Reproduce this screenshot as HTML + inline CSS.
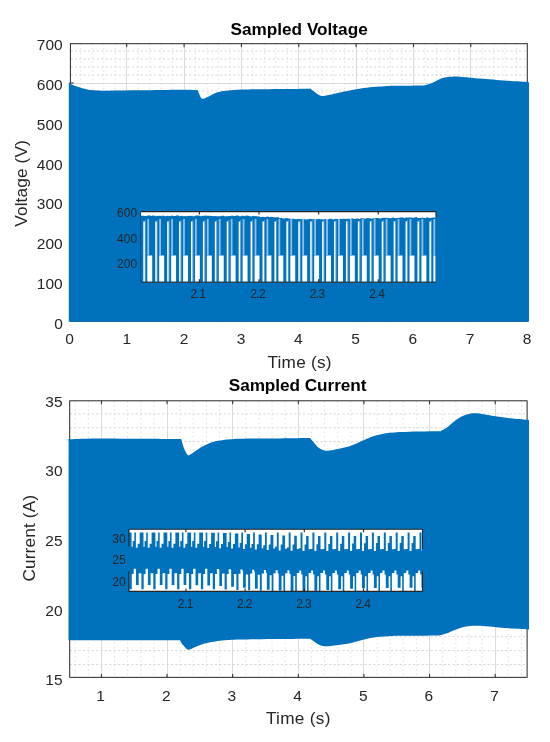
<!DOCTYPE html>
<html><head><meta charset="utf-8"><title>Sampled Voltage / Sampled Current</title>
<style>
html,body{margin:0;padding:0;background:#fff;}
svg{display:block;}
text{font-family:"Liberation Sans",Arial,Helvetica,sans-serif;fill:#262626;}
.tk{font-size:15.5px;letter-spacing:0.05px;}
.lb{font-size:17.2px;}
.tt{font-size:17.2px;font-weight:bold;fill:#000;}
.it{font-size:12px;}
</style></head><body>
<svg width="550" height="742" viewBox="0 0 550 742">
<rect x="0" y="0" width="550" height="742" fill="#fff"/>

<g stroke="#dedede" stroke-width="1" stroke-dasharray="1.5 2.9" fill="none">
<line x1="80.82" y1="43.7" x2="80.82" y2="321.3"/>
<line x1="92.29" y1="43.7" x2="92.29" y2="321.3"/>
<line x1="103.76" y1="43.7" x2="103.76" y2="321.3"/>
<line x1="115.23" y1="43.7" x2="115.23" y2="321.3"/>
<line x1="138.17" y1="43.7" x2="138.17" y2="321.3"/>
<line x1="149.64" y1="43.7" x2="149.64" y2="321.3"/>
<line x1="161.11" y1="43.7" x2="161.11" y2="321.3"/>
<line x1="172.58" y1="43.7" x2="172.58" y2="321.3"/>
<line x1="195.52" y1="43.7" x2="195.52" y2="321.3"/>
<line x1="206.99" y1="43.7" x2="206.99" y2="321.3"/>
<line x1="218.46" y1="43.7" x2="218.46" y2="321.3"/>
<line x1="229.93" y1="43.7" x2="229.93" y2="321.3"/>
<line x1="252.87" y1="43.7" x2="252.87" y2="321.3"/>
<line x1="264.34" y1="43.7" x2="264.34" y2="321.3"/>
<line x1="275.81" y1="43.7" x2="275.81" y2="321.3"/>
<line x1="287.28" y1="43.7" x2="287.28" y2="321.3"/>
<line x1="310.22" y1="43.7" x2="310.22" y2="321.3"/>
<line x1="321.69" y1="43.7" x2="321.69" y2="321.3"/>
<line x1="333.16" y1="43.7" x2="333.16" y2="321.3"/>
<line x1="344.63" y1="43.7" x2="344.63" y2="321.3"/>
<line x1="367.57" y1="43.7" x2="367.57" y2="321.3"/>
<line x1="379.04" y1="43.7" x2="379.04" y2="321.3"/>
<line x1="390.51" y1="43.7" x2="390.51" y2="321.3"/>
<line x1="401.98" y1="43.7" x2="401.98" y2="321.3"/>
<line x1="424.92" y1="43.7" x2="424.92" y2="321.3"/>
<line x1="436.39" y1="43.7" x2="436.39" y2="321.3"/>
<line x1="447.86" y1="43.7" x2="447.86" y2="321.3"/>
<line x1="459.33" y1="43.7" x2="459.33" y2="321.3"/>
<line x1="482.27" y1="43.7" x2="482.27" y2="321.3"/>
<line x1="493.74" y1="43.7" x2="493.74" y2="321.3"/>
<line x1="505.21" y1="43.7" x2="505.21" y2="321.3"/>
<line x1="516.68" y1="43.7" x2="516.68" y2="321.3"/>
</g>
<g stroke="#d6d6d6" stroke-width="1" stroke-dasharray="2.2 2.2" fill="none">
<line x1="70.4" y1="314.42" x2="527.3" y2="314.42"/>
<line x1="70.4" y1="306.44" x2="527.3" y2="306.44"/>
<line x1="70.4" y1="298.46" x2="527.3" y2="298.46"/>
<line x1="70.4" y1="290.48" x2="527.3" y2="290.48"/>
<line x1="70.4" y1="274.52" x2="527.3" y2="274.52"/>
<line x1="70.4" y1="266.54" x2="527.3" y2="266.54"/>
<line x1="70.4" y1="258.56" x2="527.3" y2="258.56"/>
<line x1="70.4" y1="250.58" x2="527.3" y2="250.58"/>
<line x1="70.4" y1="234.62" x2="527.3" y2="234.62"/>
<line x1="70.4" y1="226.64" x2="527.3" y2="226.64"/>
<line x1="70.4" y1="218.66" x2="527.3" y2="218.66"/>
<line x1="70.4" y1="210.68" x2="527.3" y2="210.68"/>
<line x1="70.4" y1="194.72" x2="527.3" y2="194.72"/>
<line x1="70.4" y1="186.74" x2="527.3" y2="186.74"/>
<line x1="70.4" y1="178.76" x2="527.3" y2="178.76"/>
<line x1="70.4" y1="170.78" x2="527.3" y2="170.78"/>
<line x1="70.4" y1="154.82" x2="527.3" y2="154.82"/>
<line x1="70.4" y1="146.84" x2="527.3" y2="146.84"/>
<line x1="70.4" y1="138.86" x2="527.3" y2="138.86"/>
<line x1="70.4" y1="130.88" x2="527.3" y2="130.88"/>
<line x1="70.4" y1="114.92" x2="527.3" y2="114.92"/>
<line x1="70.4" y1="106.94" x2="527.3" y2="106.94"/>
<line x1="70.4" y1="98.96" x2="527.3" y2="98.96"/>
<line x1="70.4" y1="90.98" x2="527.3" y2="90.98"/>
<line x1="70.4" y1="75.02" x2="527.3" y2="75.02"/>
<line x1="70.4" y1="67.04" x2="527.3" y2="67.04"/>
<line x1="70.4" y1="59.06" x2="527.3" y2="59.06"/>
<line x1="70.4" y1="51.08" x2="527.3" y2="51.08"/>
</g>
<g stroke="#dadada" stroke-width="1" fill="none">
<line x1="126.5" y1="43.7" x2="126.5" y2="321.3"/>
<line x1="184.5" y1="43.7" x2="184.5" y2="321.3"/>
<line x1="241.5" y1="43.7" x2="241.5" y2="321.3"/>
<line x1="298.5" y1="43.7" x2="298.5" y2="321.3"/>
<line x1="356.5" y1="43.7" x2="356.5" y2="321.3"/>
<line x1="413.5" y1="43.7" x2="413.5" y2="321.3"/>
<line x1="470.5" y1="43.7" x2="470.5" y2="321.3"/>
<line x1="70.4" y1="282.5" x2="527.3" y2="282.5"/>
<line x1="70.4" y1="242.5" x2="527.3" y2="242.5"/>
<line x1="70.4" y1="202.5" x2="527.3" y2="202.5"/>
<line x1="70.4" y1="162.5" x2="527.3" y2="162.5"/>
<line x1="70.4" y1="122.5" x2="527.3" y2="122.5"/>
<line x1="70.4" y1="83.5" x2="527.3" y2="83.5"/>
</g>
<g stroke="#262626" stroke-width="1" fill="none">
<rect x="70.4" y="43.7" width="456.9" height="277.6"/>
<line x1="126.70" y1="321.3" x2="126.70" y2="317.90000000000003"/>
<line x1="126.70" y1="43.7" x2="126.70" y2="47.1"/>
<line x1="184.05" y1="321.3" x2="184.05" y2="317.90000000000003"/>
<line x1="184.05" y1="43.7" x2="184.05" y2="47.1"/>
<line x1="241.40" y1="321.3" x2="241.40" y2="317.90000000000003"/>
<line x1="241.40" y1="43.7" x2="241.40" y2="47.1"/>
<line x1="298.75" y1="321.3" x2="298.75" y2="317.90000000000003"/>
<line x1="298.75" y1="43.7" x2="298.75" y2="47.1"/>
<line x1="356.10" y1="321.3" x2="356.10" y2="317.90000000000003"/>
<line x1="356.10" y1="43.7" x2="356.10" y2="47.1"/>
<line x1="413.45" y1="321.3" x2="413.45" y2="317.90000000000003"/>
<line x1="413.45" y1="43.7" x2="413.45" y2="47.1"/>
<line x1="470.80" y1="321.3" x2="470.80" y2="317.90000000000003"/>
<line x1="470.80" y1="43.7" x2="470.80" y2="47.1"/>
<line x1="70.4" y1="282.50" x2="73.80000000000001" y2="282.50"/>
<line x1="527.3" y1="282.50" x2="523.9" y2="282.50"/>
<line x1="70.4" y1="242.60" x2="73.80000000000001" y2="242.60"/>
<line x1="527.3" y1="242.60" x2="523.9" y2="242.60"/>
<line x1="70.4" y1="202.70" x2="73.80000000000001" y2="202.70"/>
<line x1="527.3" y1="202.70" x2="523.9" y2="202.70"/>
<line x1="70.4" y1="162.80" x2="73.80000000000001" y2="162.80"/>
<line x1="527.3" y1="162.80" x2="523.9" y2="162.80"/>
<line x1="70.4" y1="122.90" x2="73.80000000000001" y2="122.90"/>
<line x1="527.3" y1="122.90" x2="523.9" y2="122.90"/>
<line x1="70.4" y1="83.00" x2="73.80000000000001" y2="83.00"/>
<line x1="527.3" y1="83.00" x2="523.9" y2="83.00"/>
</g>
<path d="M68.8,79.6 C69.0,80.2 68.1,82.2 70.0,83.5 C71.9,84.8 75.5,86.3 80.0,87.5 C84.5,88.7 87.0,90.0 97.0,90.5 C107.0,91.0 126.2,90.4 140.0,90.3 C153.8,90.2 170.6,89.8 180.0,89.8 C189.4,89.8 193.6,90.0 196.5,90.1 C199.4,90.2 197.1,89.7 197.5,90.3 C197.9,90.9 198.3,92.2 199.0,93.5 C199.7,94.8 200.6,97.6 201.6,98.4 C202.6,99.2 203.3,98.8 205.0,98.2 C206.7,97.6 209.5,95.9 212.0,94.8 C214.5,93.7 215.0,92.7 220.0,91.8 C225.0,90.9 230.3,90.1 242.0,89.6 C253.7,89.1 278.8,89.1 290.0,89.0 C301.2,88.9 306.0,88.8 309.5,88.8 C313.0,88.8 310.2,88.8 311.0,89.2 C311.8,89.7 312.7,90.5 314.0,91.5 C315.3,92.5 317.4,94.2 319.0,95.0 C320.6,95.8 321.6,96.1 323.6,96.0 C325.6,95.9 328.4,95.1 331.0,94.6 C333.6,94.0 334.0,93.7 339.0,92.7 C344.0,91.7 353.2,89.5 360.8,88.4 C368.4,87.3 378.2,86.6 384.7,86.2 C391.2,85.8 393.8,85.9 400.0,85.8 C406.2,85.7 417.8,85.6 422.0,85.5 C426.2,85.4 423.3,85.6 425.0,85.2 C426.7,84.8 429.8,83.9 432.0,83.0 C434.2,82.1 435.9,80.9 438.0,80.0 C440.1,79.1 441.8,78.2 444.5,77.6 C447.2,77.0 450.6,76.6 454.0,76.5 C457.4,76.4 460.7,76.9 465.0,77.2 C469.3,77.5 473.0,78.0 480.0,78.6 C487.0,79.2 498.8,80.2 507.0,80.8 C515.2,81.4 525.3,82.0 529.0,82.2L529,321.7 L68.8,321.7Z" fill="#0072BD"/>
<rect x="140.5" y="211.6" width="295.5" height="70.70000000000002" fill="#fff"/>
<path d="M140.5,215.5L142.0,215.8L143.5,215.7L145.0,215.9L146.5,215.9L148.0,215.4L149.5,215.3L151.0,216.1L152.5,215.6L154.0,215.5L155.5,216.3L157.0,215.8L158.5,216.1L160.0,215.8L161.5,215.9L163.0,215.5L164.5,215.9L166.0,216.2L167.5,215.8L169.0,216.0L170.5,216.0L172.0,215.4L173.5,216.1L175.0,215.9L176.5,215.6L178.0,215.3L179.5,216.2L181.0,215.8L182.5,216.0L184.0,216.2L185.5,216.0L187.0,216.2L188.5,215.7L190.0,216.1L191.5,215.7L193.0,216.2L194.5,216.2L196.0,215.4L197.5,215.4L199.0,215.5L200.5,216.3L202.0,215.7L203.5,215.9L205.0,215.6L206.5,215.8L208.0,215.7L209.5,215.7L211.0,215.9L212.5,215.9L214.0,216.2L215.5,216.0L217.0,216.2L218.5,216.2L220.0,216.3L221.5,216.0L223.0,215.5L224.5,216.2L226.0,216.3L227.5,216.2L229.0,215.9L230.5,216.0L232.0,215.5L233.5,216.1L235.0,215.9L236.5,215.6L238.0,215.4L239.5,216.2L241.0,216.3L242.5,215.4L244.0,216.2L245.5,215.8L247.0,215.6L248.5,215.8L250.0,216.3L251.5,216.5L253.0,215.7L254.5,216.3L256.0,215.9L257.5,216.6L259.0,216.3L260.5,216.9L262.0,217.1L263.5,216.7L265.0,217.3L266.5,216.7L268.0,216.6L269.5,217.2L271.0,216.8L272.5,217.0L274.0,217.3L275.5,217.6L277.0,217.3L278.5,217.3L280.0,218.2L281.5,217.8L283.0,218.5L284.5,218.5L286.0,218.1L287.5,218.3L289.0,218.4L290.5,218.7L292.0,218.7L293.5,218.7L295.0,218.9L296.5,219.3L298.0,218.9L299.5,218.9L301.0,219.2L302.5,218.8L304.0,218.9L305.5,219.6L307.0,219.2L308.5,219.2L310.0,218.7L311.5,219.1L313.0,219.3L314.5,218.7L316.0,219.3L317.5,219.3L319.0,218.8L320.5,219.3L322.0,219.2L323.5,219.4L325.0,219.0L326.5,219.4L328.0,219.4L329.5,218.7L331.0,218.7L332.5,219.3L334.0,219.6L335.5,218.8L337.0,219.0L338.5,219.1L340.0,218.8L341.5,218.9L343.0,218.8L344.5,218.8L346.0,219.0L347.5,218.7L349.0,218.7L350.5,219.1L352.0,218.3L353.5,218.8L355.0,219.0L356.5,218.5L358.0,218.4L359.5,218.9L361.0,218.3L362.5,218.2L364.0,218.5L365.5,218.7L367.0,218.1L368.5,218.2L370.0,218.2L371.5,218.7L373.0,218.3L374.5,218.6L376.0,217.9L377.5,218.1L379.0,218.3L380.5,218.5L382.0,218.1L383.5,217.8L385.0,217.7L386.5,218.0L388.0,217.7L389.5,218.3L391.0,218.3L392.5,217.6L394.0,217.7L395.5,218.2L397.0,218.0L398.5,218.1L400.0,217.6L401.5,217.4L403.0,217.5L404.5,218.0L406.0,217.5L407.5,217.5L409.0,217.6L410.5,217.6L412.0,217.5L413.5,218.0L415.0,217.3L416.5,217.1L418.0,218.0L419.5,218.0L421.0,218.1L422.5,217.5L424.0,218.1L425.5,218.0L427.0,217.3L428.5,217.8L430.0,217.9L431.5,217.8L433.0,217.6L434.5,217.4L436.0,217.4L436.0,217.4L436,282.3 L140.5,282.3Z" fill="#0072BD"/>
<g fill="#fff"><rect x="147.30" y="255.5" width="4.90" height="26.20"/><rect x="143.30" y="221.5" width="1.60" height="60.20"/><rect x="159.22" y="255.5" width="4.90" height="26.20"/><rect x="155.22" y="221.5" width="1.60" height="60.20"/><rect x="171.14" y="255.5" width="4.90" height="26.20"/><rect x="167.14" y="221.5" width="1.60" height="60.20"/><rect x="183.06" y="255.5" width="4.90" height="26.20"/><rect x="179.06" y="221.5" width="1.60" height="60.20"/><rect x="194.98" y="255.5" width="4.90" height="26.20"/><rect x="190.98" y="221.5" width="1.60" height="60.20"/><rect x="206.90" y="255.5" width="4.90" height="26.20"/><rect x="202.90" y="221.5" width="1.60" height="60.20"/><rect x="218.82" y="255.5" width="4.90" height="26.20"/><rect x="214.82" y="221.5" width="1.60" height="60.20"/><rect x="230.74" y="255.5" width="4.90" height="26.20"/><rect x="226.74" y="221.5" width="1.60" height="60.20"/><rect x="242.66" y="255.5" width="4.90" height="26.20"/><rect x="238.66" y="221.5" width="1.60" height="60.20"/><rect x="254.58" y="255.5" width="4.90" height="26.20"/><rect x="250.58" y="221.5" width="1.60" height="60.20"/><rect x="266.50" y="255.5" width="4.90" height="26.20"/><rect x="262.50" y="221.5" width="1.60" height="60.20"/><rect x="278.42" y="255.5" width="4.90" height="26.20"/><rect x="274.42" y="221.5" width="1.60" height="60.20"/><rect x="290.34" y="255.5" width="4.90" height="26.20"/><rect x="286.34" y="221.5" width="1.60" height="60.20"/><rect x="302.26" y="255.5" width="4.90" height="26.20"/><rect x="298.26" y="221.5" width="1.60" height="60.20"/><rect x="314.18" y="255.5" width="4.90" height="26.20"/><rect x="310.18" y="221.5" width="1.60" height="60.20"/><rect x="326.10" y="255.5" width="4.90" height="26.20"/><rect x="322.10" y="221.5" width="1.60" height="60.20"/><rect x="338.02" y="255.5" width="4.90" height="26.20"/><rect x="334.02" y="221.5" width="1.60" height="60.20"/><rect x="349.94" y="255.5" width="4.90" height="26.20"/><rect x="345.94" y="221.5" width="1.60" height="60.20"/><rect x="361.86" y="255.5" width="4.90" height="26.20"/><rect x="357.86" y="221.5" width="1.60" height="60.20"/><rect x="373.78" y="255.5" width="4.90" height="26.20"/><rect x="369.78" y="221.5" width="1.60" height="60.20"/><rect x="385.70" y="255.5" width="4.90" height="26.20"/><rect x="381.70" y="221.5" width="1.60" height="60.20"/><rect x="397.62" y="255.5" width="4.90" height="26.20"/><rect x="393.62" y="221.5" width="1.60" height="60.20"/><rect x="409.54" y="255.5" width="4.90" height="26.20"/><rect x="405.54" y="221.5" width="1.60" height="60.20"/><rect x="421.46" y="255.5" width="4.90" height="26.20"/><rect x="417.46" y="221.5" width="1.60" height="60.20"/><rect x="433.38" y="255.5" width="2.02" height="26.20"/><rect x="429.38" y="221.5" width="1.60" height="60.20"/></g>
<g fill="#8fbfe6"><rect x="144.88" y="220" width="0.9" height="61.70" opacity="0.6"/><rect x="147.30" y="219" width="1.80" height="36.5"/><rect x="156.80" y="220" width="0.9" height="61.70" opacity="0.6"/><rect x="159.22" y="219" width="1.80" height="36.5"/><rect x="168.72" y="220" width="0.9" height="61.70" opacity="0.6"/><rect x="171.14" y="219" width="1.80" height="36.5"/><rect x="180.64" y="220" width="0.9" height="61.70" opacity="0.6"/><rect x="183.06" y="219" width="1.80" height="36.5"/><rect x="192.56" y="220" width="0.9" height="61.70" opacity="0.6"/><rect x="194.98" y="219" width="1.80" height="36.5"/><rect x="204.48" y="220" width="0.9" height="61.70" opacity="0.6"/><rect x="206.90" y="219" width="1.80" height="36.5"/><rect x="216.40" y="220" width="0.9" height="61.70" opacity="0.6"/><rect x="218.82" y="219" width="1.80" height="36.5"/><rect x="228.32" y="220" width="0.9" height="61.70" opacity="0.6"/><rect x="230.74" y="219" width="1.80" height="36.5"/><rect x="240.24" y="220" width="0.9" height="61.70" opacity="0.6"/><rect x="242.66" y="219" width="1.80" height="36.5"/><rect x="252.16" y="220" width="0.9" height="61.70" opacity="0.6"/><rect x="254.58" y="219" width="1.80" height="36.5"/><rect x="264.08" y="220" width="0.9" height="61.70" opacity="0.6"/><rect x="266.50" y="219" width="1.80" height="36.5"/><rect x="276.00" y="220" width="0.9" height="61.70" opacity="0.6"/><rect x="278.42" y="219" width="1.80" height="36.5"/><rect x="287.92" y="220" width="0.9" height="61.70" opacity="0.6"/><rect x="290.34" y="219" width="1.80" height="36.5"/><rect x="299.84" y="220" width="0.9" height="61.70" opacity="0.6"/><rect x="302.26" y="219" width="1.80" height="36.5"/><rect x="311.76" y="220" width="0.9" height="61.70" opacity="0.6"/><rect x="314.18" y="219" width="1.80" height="36.5"/><rect x="323.68" y="220" width="0.9" height="61.70" opacity="0.6"/><rect x="326.10" y="219" width="1.80" height="36.5"/><rect x="335.60" y="220" width="0.9" height="61.70" opacity="0.6"/><rect x="338.02" y="219" width="1.80" height="36.5"/><rect x="347.52" y="220" width="0.9" height="61.70" opacity="0.6"/><rect x="349.94" y="219" width="1.80" height="36.5"/><rect x="359.44" y="220" width="0.9" height="61.70" opacity="0.6"/><rect x="361.86" y="219" width="1.80" height="36.5"/><rect x="371.36" y="220" width="0.9" height="61.70" opacity="0.6"/><rect x="373.78" y="219" width="1.80" height="36.5"/><rect x="383.28" y="220" width="0.9" height="61.70" opacity="0.6"/><rect x="385.70" y="219" width="1.80" height="36.5"/><rect x="395.20" y="220" width="0.9" height="61.70" opacity="0.6"/><rect x="397.62" y="219" width="1.80" height="36.5"/><rect x="407.12" y="220" width="0.9" height="61.70" opacity="0.6"/><rect x="409.54" y="219" width="1.80" height="36.5"/><rect x="419.04" y="220" width="0.9" height="61.70" opacity="0.6"/><rect x="421.46" y="219" width="1.80" height="36.5"/><rect x="430.96" y="220" width="0.9" height="61.70" opacity="0.6"/><rect x="433.38" y="219" width="1.80" height="36.5"/></g>
<g stroke="#262626" stroke-width="1.1" fill="none">
<line x1="140.5" y1="211.6" x2="436" y2="211.6"/>
<line x1="140.5" y1="282.3" x2="436" y2="282.3" stroke-dasharray="none"/>
<line x1="436" y1="211.6" x2="436" y2="217.6"/>
<line x1="199.4" y1="211.6" x2="199.4" y2="214.6"/>
<line x1="199.4" y1="282.3" x2="199.4" y2="279.3"/>
<line x1="259.0" y1="211.6" x2="259.0" y2="214.6"/>
<line x1="259.0" y1="282.3" x2="259.0" y2="279.3"/>
<line x1="318.6" y1="211.6" x2="318.6" y2="214.6"/>
<line x1="318.6" y1="282.3" x2="318.6" y2="279.3"/>
<line x1="378.2" y1="211.6" x2="378.2" y2="214.6"/>
<line x1="378.2" y1="282.3" x2="378.2" y2="279.3"/>
</g>
<line x1="140.5" y1="211.6" x2="140.5" y2="282.3" stroke="#10508a" stroke-width="1"/>
<text class="it" x="137.1" y="216.9" text-anchor="end">600</text>
<text class="it" x="137.1" y="243.0" text-anchor="end">400</text>
<text class="it" x="137.1" y="267.6" text-anchor="end">200</text>
<text class="it" x="198.0" y="298.3" text-anchor="middle" letter-spacing="-0.6">2.1</text>
<text class="it" x="257.6" y="298.3" text-anchor="middle" letter-spacing="-0.6">2.2</text>
<text class="it" x="317.2" y="298.3" text-anchor="middle" letter-spacing="-0.6">2.3</text>
<text class="it" x="376.8" y="298.3" text-anchor="middle" letter-spacing="-0.6">2.4</text>
<text class="tk" x="62.8" y="328.94" text-anchor="end">0</text>
<text class="tk" x="62.8" y="289.12" text-anchor="end">100</text>
<text class="tk" x="62.8" y="249.30" text-anchor="end">200</text>
<text class="tk" x="62.8" y="209.48" text-anchor="end">300</text>
<text class="tk" x="62.8" y="169.66" text-anchor="end">400</text>
<text class="tk" x="62.8" y="129.84" text-anchor="end">500</text>
<text class="tk" x="62.8" y="90.02" text-anchor="end">600</text>
<text class="tk" x="62.8" y="50.20" text-anchor="end">700</text>
<text class="tk" x="69.60" y="343.90" text-anchor="middle">0</text>
<text class="tk" x="126.80" y="343.90" text-anchor="middle">1</text>
<text class="tk" x="184.00" y="343.90" text-anchor="middle">2</text>
<text class="tk" x="241.20" y="343.90" text-anchor="middle">3</text>
<text class="tk" x="298.40" y="343.90" text-anchor="middle">4</text>
<text class="tk" x="355.60" y="343.90" text-anchor="middle">5</text>
<text class="tk" x="412.80" y="343.90" text-anchor="middle">6</text>
<text class="tk" x="470.00" y="343.90" text-anchor="middle">7</text>
<text class="tk" x="527.20" y="343.90" text-anchor="middle">8</text>
<text class="tt" x="299.1" y="34.7" text-anchor="middle">Sampled Voltage</text>
<text class="lb" x="299.6" y="367.6" text-anchor="middle" letter-spacing="0.25">Time (s)</text>
<text class="lb" transform="translate(27.2,183.4) rotate(-90)" text-anchor="middle" letter-spacing="0.15">Voltage (V)</text>
<g stroke="#dedede" stroke-width="1" stroke-dasharray="1.5 2.9" fill="none">
<line x1="75.15" y1="400.8" x2="75.15" y2="677.35"/>
<line x1="88.27" y1="400.8" x2="88.27" y2="677.35"/>
<line x1="114.53" y1="400.8" x2="114.53" y2="677.35"/>
<line x1="127.65" y1="400.8" x2="127.65" y2="677.35"/>
<line x1="140.78" y1="400.8" x2="140.78" y2="677.35"/>
<line x1="153.90" y1="400.8" x2="153.90" y2="677.35"/>
<line x1="180.16" y1="400.8" x2="180.16" y2="677.35"/>
<line x1="193.28" y1="400.8" x2="193.28" y2="677.35"/>
<line x1="206.41" y1="400.8" x2="206.41" y2="677.35"/>
<line x1="219.53" y1="400.8" x2="219.53" y2="677.35"/>
<line x1="245.79" y1="400.8" x2="245.79" y2="677.35"/>
<line x1="258.91" y1="400.8" x2="258.91" y2="677.35"/>
<line x1="272.04" y1="400.8" x2="272.04" y2="677.35"/>
<line x1="285.16" y1="400.8" x2="285.16" y2="677.35"/>
<line x1="311.42" y1="400.8" x2="311.42" y2="677.35"/>
<line x1="324.54" y1="400.8" x2="324.54" y2="677.35"/>
<line x1="337.67" y1="400.8" x2="337.67" y2="677.35"/>
<line x1="350.79" y1="400.8" x2="350.79" y2="677.35"/>
<line x1="377.05" y1="400.8" x2="377.05" y2="677.35"/>
<line x1="390.17" y1="400.8" x2="390.17" y2="677.35"/>
<line x1="403.30" y1="400.8" x2="403.30" y2="677.35"/>
<line x1="416.42" y1="400.8" x2="416.42" y2="677.35"/>
<line x1="442.68" y1="400.8" x2="442.68" y2="677.35"/>
<line x1="455.80" y1="400.8" x2="455.80" y2="677.35"/>
<line x1="468.93" y1="400.8" x2="468.93" y2="677.35"/>
<line x1="482.05" y1="400.8" x2="482.05" y2="677.35"/>
<line x1="508.31" y1="400.8" x2="508.31" y2="677.35"/>
<line x1="521.43" y1="400.8" x2="521.43" y2="677.35"/>
</g>
<g stroke="#d6d6d6" stroke-width="1" stroke-dasharray="2.2 2.2" fill="none">
<line x1="69.7" y1="664.57" x2="527.1" y2="664.57"/>
<line x1="69.7" y1="650.64" x2="527.1" y2="650.64"/>
<line x1="69.7" y1="636.71" x2="527.1" y2="636.71"/>
<line x1="69.7" y1="622.78" x2="527.1" y2="622.78"/>
<line x1="69.7" y1="594.92" x2="527.1" y2="594.92"/>
<line x1="69.7" y1="580.99" x2="527.1" y2="580.99"/>
<line x1="69.7" y1="567.06" x2="527.1" y2="567.06"/>
<line x1="69.7" y1="553.13" x2="527.1" y2="553.13"/>
<line x1="69.7" y1="525.27" x2="527.1" y2="525.27"/>
<line x1="69.7" y1="511.34" x2="527.1" y2="511.34"/>
<line x1="69.7" y1="497.41" x2="527.1" y2="497.41"/>
<line x1="69.7" y1="483.48" x2="527.1" y2="483.48"/>
<line x1="69.7" y1="455.62" x2="527.1" y2="455.62"/>
<line x1="69.7" y1="441.69" x2="527.1" y2="441.69"/>
<line x1="69.7" y1="427.76" x2="527.1" y2="427.76"/>
<line x1="69.7" y1="413.83" x2="527.1" y2="413.83"/>
</g>
<g stroke="#dadada" stroke-width="1" fill="none">
<line x1="101.5" y1="400.8" x2="101.5" y2="677.35"/>
<line x1="167.5" y1="400.8" x2="167.5" y2="677.35"/>
<line x1="232.5" y1="400.8" x2="232.5" y2="677.35"/>
<line x1="298.5" y1="400.8" x2="298.5" y2="677.35"/>
<line x1="363.5" y1="400.8" x2="363.5" y2="677.35"/>
<line x1="429.5" y1="400.8" x2="429.5" y2="677.35"/>
<line x1="495.5" y1="400.8" x2="495.5" y2="677.35"/>
<line x1="69.7" y1="608.5" x2="527.1" y2="608.5"/>
<line x1="69.7" y1="539.5" x2="527.1" y2="539.5"/>
<line x1="69.7" y1="469.5" x2="527.1" y2="469.5"/>
</g>
<g stroke="#262626" stroke-width="1" fill="none">
<rect x="69.7" y="400.8" width="457.40000000000003" height="276.55"/>
<line x1="101.40" y1="677.35" x2="101.40" y2="673.95"/>
<line x1="101.40" y1="400.8" x2="101.40" y2="404.2"/>
<line x1="167.03" y1="677.35" x2="167.03" y2="673.95"/>
<line x1="167.03" y1="400.8" x2="167.03" y2="404.2"/>
<line x1="232.66" y1="677.35" x2="232.66" y2="673.95"/>
<line x1="232.66" y1="400.8" x2="232.66" y2="404.2"/>
<line x1="298.29" y1="677.35" x2="298.29" y2="673.95"/>
<line x1="298.29" y1="400.8" x2="298.29" y2="404.2"/>
<line x1="363.92" y1="677.35" x2="363.92" y2="673.95"/>
<line x1="363.92" y1="400.8" x2="363.92" y2="404.2"/>
<line x1="429.55" y1="677.35" x2="429.55" y2="673.95"/>
<line x1="429.55" y1="400.8" x2="429.55" y2="404.2"/>
<line x1="495.18" y1="677.35" x2="495.18" y2="673.95"/>
<line x1="495.18" y1="400.8" x2="495.18" y2="404.2"/>
<line x1="69.7" y1="608.85" x2="73.10000000000001" y2="608.85"/>
<line x1="527.1" y1="608.85" x2="523.7" y2="608.85"/>
<line x1="69.7" y1="539.20" x2="73.10000000000001" y2="539.20"/>
<line x1="527.1" y1="539.20" x2="523.7" y2="539.20"/>
<line x1="69.7" y1="469.55" x2="73.10000000000001" y2="469.55"/>
<line x1="527.1" y1="469.55" x2="523.7" y2="469.55"/>
</g>
<path d="M68.6,440.5 C68.8,440.3 64.8,439.6 70.0,439.2 C75.2,438.8 88.3,438.5 100.0,438.4 C111.7,438.3 126.7,438.6 140.0,438.7 C153.3,438.8 173.1,438.9 180.0,439.0 C186.9,439.1 180.7,438.3 181.3,439.6 C181.9,440.9 182.4,444.4 183.5,447.0 C184.6,449.6 186.3,453.8 187.6,455.0 C188.8,456.2 189.4,454.8 191.0,454.0 C192.6,453.2 194.8,451.4 197.0,450.0 C199.2,448.6 201.3,447.1 204.0,445.8 C206.7,444.5 209.7,443.0 213.0,442.0 C216.3,441.0 219.1,440.5 223.6,440.0 C228.1,439.5 230.6,439.1 240.0,438.8 C249.4,438.5 268.5,438.5 280.0,438.4 C291.5,438.3 303.9,438.0 309.0,438.0 C314.1,438.0 309.8,437.7 310.5,438.4 C311.2,439.1 312.1,440.4 313.5,442.0 C314.9,443.6 316.8,446.6 319.0,448.0 C321.2,449.4 323.3,450.5 326.5,450.7 C329.7,450.9 333.9,449.8 338.0,449.0 C342.1,448.2 346.8,447.2 351.0,445.8 C355.2,444.4 359.2,442.1 363.0,440.5 C366.8,438.9 369.5,437.3 374.0,436.0 C378.5,434.7 384.0,433.5 390.0,432.8 C396.0,432.1 401.8,431.9 410.0,431.7 C418.2,431.4 433.8,431.4 439.0,431.3 C444.2,431.2 439.7,431.4 441.0,430.8 C442.3,430.2 444.8,429.1 447.0,427.5 C449.2,425.9 451.7,423.3 454.0,421.5 C456.3,419.7 458.7,418.0 461.0,416.8 C463.3,415.6 465.8,414.8 468.0,414.2 C470.2,413.6 471.7,413.3 474.5,413.3 C477.3,413.3 480.9,413.8 485.0,414.4 C489.1,415.0 494.3,416.1 499.0,416.8 C503.7,417.5 508.0,418.1 513.0,418.6 C518.0,419.1 526.3,419.8 529.0,420.0L529.0,629.6 C526.3,629.4 518.0,629.0 513.0,628.6 C508.0,628.2 503.5,627.8 499.0,627.4 C494.5,627.0 490.1,626.6 486.0,626.3 C481.9,626.0 477.5,625.8 474.5,625.8 C471.5,625.8 470.2,626.0 468.0,626.3 C465.8,626.6 463.3,627.1 461.0,627.7 C458.7,628.4 456.3,629.3 454.0,630.2 C451.7,631.1 449.2,632.5 447.0,633.3 C444.8,634.1 442.3,634.8 441.0,635.1 C439.7,635.5 444.2,635.3 439.0,635.4 C433.8,635.5 417.8,635.6 410.0,635.7 C402.2,635.8 397.5,635.7 392.0,635.9 C386.5,636.1 381.7,636.4 377.0,637.0 C372.3,637.6 368.3,638.5 364.0,639.5 C359.7,640.5 355.5,642.0 351.0,643.0 C346.5,644.0 341.3,644.7 337.0,645.2 C332.7,645.7 328.0,646.3 325.0,646.2 C322.0,646.1 320.8,645.6 319.0,644.8 C317.2,644.0 315.4,642.5 314.0,641.5 C312.6,640.5 311.3,639.5 310.5,639.0 C309.7,638.5 314.1,638.7 309.0,638.7 C303.9,638.7 291.5,638.9 280.0,639.0 C268.5,639.1 249.7,639.3 240.0,639.6 C230.3,639.9 227.5,640.0 222.0,640.6 C216.5,641.2 210.8,642.2 207.0,643.0 C203.2,643.8 201.5,644.6 199.0,645.5 C196.5,646.4 193.9,647.8 192.0,648.5 C190.1,649.2 189.2,650.2 187.6,649.5 C186.0,648.8 183.8,646.0 182.5,644.5 C181.2,643.0 180.7,641.4 180.0,640.7 C179.3,640.0 188.5,640.4 178.5,640.3 C168.5,640.2 138.3,640.3 120.0,640.3 C101.7,640.3 77.1,640.3 68.5,640.3Z" fill="#0072BD"/>
<path d="M129.40,529.30L129.40,532.60L131.60,532.60L131.60,546.80L132.70,546.80L132.70,541.00L134.30,541.00L134.30,532.60L135.90,532.60L135.90,547.80L137.70,547.80L137.70,543.80L139.70,543.80L139.70,532.60L143.50,532.60L143.50,546.80L144.60,546.80L144.60,541.00L146.20,541.00L146.20,532.60L147.80,532.60L147.80,547.80L149.60,547.80L149.60,543.80L151.60,543.80L151.60,532.60L155.40,532.60L155.40,546.80L156.50,546.80L156.50,541.00L158.10,541.00L158.10,532.60L159.70,532.60L159.70,547.80L161.50,547.80L161.50,543.80L163.50,543.80L163.50,532.60L167.30,532.60L167.30,546.80L168.40,546.80L168.40,541.00L170.00,541.00L170.00,532.60L171.60,532.60L171.60,547.80L173.40,547.80L173.40,543.81L175.40,543.81L175.40,532.60L179.20,532.60L179.20,546.80L180.30,546.80L180.30,541.00L181.90,541.00L181.90,532.60L183.50,532.60L183.50,547.80L185.30,547.80L185.30,543.83L187.30,543.83L187.30,532.60L191.10,532.60L191.10,546.80L192.20,546.80L192.20,541.00L193.80,541.00L193.80,532.60L195.40,532.60L195.40,547.80L197.20,547.80L197.20,543.86L199.20,543.86L199.20,532.60L203.00,532.60L203.00,546.80L204.10,546.80L204.10,541.01L205.70,541.01L205.70,532.60L207.30,532.60L207.30,547.92L209.11,547.92L209.11,543.90L211.09,543.90L211.09,532.74L214.84,532.74L214.84,546.90L215.98,546.90L215.98,541.31L217.58,541.31L217.58,532.60L219.20,532.60L219.20,548.19L221.02,548.19L221.02,543.95L222.98,543.95L222.98,533.03L226.61,533.03L226.61,547.11L227.83,547.11L227.83,541.99L229.45,541.99L229.45,532.60L231.10,532.60L231.10,548.58L232.95,548.58L232.95,544.03L234.85,544.03L234.85,533.45L238.34,533.45L238.34,547.41L239.65,547.41L239.65,542.94L241.30,542.94L241.30,532.60L243.00,532.60L243.00,549.03L244.88,549.03L244.88,544.17L246.72,544.17L246.72,533.94L250.02,533.94L250.02,547.76L251.47,547.76L251.47,544.07L253.15,544.07L253.15,532.60L254.90,532.60L254.90,549.51L256.81,549.51L256.81,544.33L258.59,544.33L258.59,534.47L261.70,534.47L261.70,548.14L263.28,548.14L263.28,545.28L264.99,545.28L264.99,532.60L266.80,532.60L266.80,549.99L268.74,549.99L268.74,544.48L270.46,544.48L270.46,534.99L273.38,534.99L273.38,548.51L275.09,548.51L275.09,546.47L276.83,546.47L276.83,532.60L278.70,532.60L278.70,550.41L280.66,550.41L280.66,544.58L282.34,544.58L282.34,535.46L285.08,535.46L285.08,548.84L286.91,548.84L286.91,547.53L288.67,547.53L288.67,532.60L290.60,532.60L290.60,550.75L292.58,550.75L292.58,544.56L294.22,544.56L294.22,535.82L296.82,535.82L296.82,549.10L298.75,549.10L298.75,548.37L300.53,548.37L300.53,532.60L302.50,532.60L302.50,550.95L304.50,550.95L304.50,544.43L306.10,544.43L306.10,536.05L308.62,536.05L308.62,549.26L310.61,549.26L310.61,548.88L312.41,548.88L312.41,532.60L314.40,532.60L314.40,551.00L316.40,551.00L316.40,544.22L318.00,544.22L318.00,536.10L320.50,536.10L320.50,549.30L322.50,549.30L322.50,549.00L324.30,549.00L324.30,532.60L326.30,532.60L326.30,551.00L328.30,551.00L328.30,543.94L329.90,543.94L329.90,536.10L332.40,536.10L332.40,549.30L334.40,549.30L334.40,549.00L336.20,549.00L336.20,532.60L338.20,532.60L338.20,551.00L340.20,551.00L340.20,543.66L341.80,543.66L341.80,536.10L344.30,536.10L344.30,549.30L346.30,549.30L346.30,549.00L348.10,549.00L348.10,532.60L350.10,532.60L350.10,551.00L352.10,551.00L352.10,543.42L353.70,543.42L353.70,536.10L356.20,536.10L356.20,549.30L358.20,549.30L358.20,549.00L360.00,549.00L360.00,532.60L362.00,532.60L362.00,551.00L364.00,551.00L364.00,543.24L365.60,543.24L365.60,536.10L368.10,536.10L368.10,549.30L370.10,549.30L370.10,549.00L371.90,549.00L371.90,532.60L373.90,532.60L373.90,551.00L375.90,551.00L375.90,543.12L377.50,543.12L377.50,536.10L380.00,536.10L380.00,549.30L382.00,549.30L382.00,549.00L383.80,549.00L383.80,532.60L385.80,532.60L385.80,551.00L387.80,551.00L387.80,543.06L389.40,543.06L389.40,536.10L391.90,536.10L391.90,549.30L393.90,549.30L393.90,549.00L395.70,549.00L395.70,532.60L397.70,532.60L397.70,551.00L399.70,551.00L399.70,543.02L401.30,543.02L401.30,536.10L403.80,536.10L403.80,549.30L405.80,549.30L405.80,549.00L407.60,549.00L407.60,532.60L409.60,532.60L409.60,551.00L411.60,551.00L411.60,543.01L413.20,543.01L413.20,536.10L415.70,536.10L415.70,549.30L417.70,549.30L417.70,549.00L419.50,549.00L419.50,532.60L421.50,532.60L421.50,551.00L422.00,551.00L422.00,529.30Z" fill="#fff"/>
<path d="M129.40,591.40L129.40,573.20L129.50,573.20L129.50,589.20L131.80,589.20L131.80,574.00L133.70,574.00L133.70,568.70L136.00,568.70L136.00,585.00L138.70,585.00L138.70,573.20L141.40,573.20L141.40,589.20L143.70,589.20L143.70,574.00L145.60,574.00L145.60,568.70L147.90,568.70L147.90,585.00L150.60,585.00L150.60,573.20L153.30,573.20L153.30,589.20L155.60,589.20L155.60,574.00L157.50,574.00L157.50,568.70L159.80,568.70L159.80,585.01L162.50,585.01L162.50,573.20L165.20,573.20L165.20,589.20L167.50,589.20L167.50,574.00L169.40,574.00L169.40,568.70L171.70,568.70L171.70,585.02L174.40,585.02L174.40,573.20L177.10,573.20L177.10,589.20L179.40,589.20L179.40,574.00L181.30,574.00L181.30,568.70L183.60,568.70L183.60,585.06L186.30,585.06L186.30,573.20L189.00,573.20L189.00,589.20L191.30,589.20L191.30,574.00L193.20,574.00L193.20,568.70L195.50,568.70L195.50,585.14L195.50,585.14L195.50,585.14L198.20,585.14L198.20,573.20L200.90,573.20L200.90,589.20L203.20,589.20L203.20,574.00L205.10,574.00L205.06,568.77L207.35,568.77L207.35,585.41L207.40,585.41L207.40,585.41L210.10,585.41L210.10,573.32L212.76,573.32L212.76,589.32L215.03,589.32L215.03,573.96L216.96,573.96L216.86,568.92L219.13,568.92L219.13,569.42L219.29,569.42L219.29,585.92L222.01,585.92L222.01,573.58L224.58,573.58L224.58,589.57L226.79,589.57L226.79,573.88L228.76,573.88L228.63,569.14L230.86,569.14L230.86,570.11L231.18,570.11L231.18,586.68L233.92,586.68L233.92,573.95L236.36,573.95L236.36,589.93L238.49,589.93L238.49,573.76L240.53,573.76L240.38,569.39L242.56,569.39L242.56,570.93L243.06,570.93L243.06,587.65L245.84,587.65L245.84,574.39L248.12,574.39L248.12,590.35L250.15,590.35L250.15,573.62L252.28,573.62L252.11,569.66L254.25,569.66L254.25,571.80L254.95,571.80L254.95,588.73L257.75,588.73L257.75,574.86L259.86,574.86L259.86,590.81L261.79,590.81L261.79,573.46L264.01,573.46L263.85,569.93L265.94,569.93L265.94,572.66L266.83,572.66L266.83,589.78L269.67,589.78L269.67,575.32L271.62,575.32L271.62,591.25L273.44,591.25L273.44,573.32L275.75,573.32L275.60,570.17L277.66,570.17L277.66,573.43L278.72,573.43L278.72,590.62L281.58,590.62L281.58,575.73L283.38,575.73L283.38,591.40L285.11,591.40L285.11,573.18L287.50,573.18L287.39,570.36L289.41,570.36L289.41,574.04L290.61,574.04L290.61,591.08L293.49,591.08L293.49,576.05L295.18,576.05L295.18,591.40L296.83,591.40L296.83,573.08L299.29,573.08L299.22,570.47L301.22,570.47L301.22,574.42L302.50,574.42L302.50,591.08L305.40,591.08L305.40,576.25L307.01,576.25L307.01,591.40L308.62,591.40L308.62,573.01L311.12,573.01L311.10,570.50L313.10,570.50L313.10,574.50L314.40,574.50L314.40,590.64L317.30,590.64L317.30,576.30L318.90,576.30L318.90,591.40L320.50,591.40L320.50,573.00L323.00,573.00L323.00,570.50L325.00,570.50L325.00,574.50L326.30,574.50L326.30,590.00L329.20,590.00L329.20,576.30L330.80,576.30L330.80,591.40L332.40,591.40L332.40,573.00L334.90,573.00L334.90,570.50L336.90,570.50L336.90,574.50L338.20,574.50L338.20,589.34L341.10,589.34L341.10,576.30L342.70,576.30L342.70,591.40L344.30,591.40L344.30,573.00L346.80,573.00L346.80,570.50L348.80,570.50L348.80,574.50L350.10,574.50L350.10,588.78L353.00,588.78L353.00,576.30L354.60,576.30L354.60,591.40L356.20,591.40L356.20,573.00L358.70,573.00L358.70,570.50L360.70,570.50L360.70,574.50L362.00,574.50L362.00,588.36L364.90,588.36L364.90,576.30L366.50,576.30L366.50,591.40L368.10,591.40L368.10,573.00L370.60,573.00L370.60,570.50L372.60,570.50L372.60,574.50L373.90,574.50L373.90,588.09L376.80,588.09L376.80,576.30L378.40,576.30L378.40,591.40L380.00,591.40L380.00,573.00L382.50,573.00L382.50,570.50L384.50,570.50L384.50,574.50L385.80,574.50L385.80,587.93L388.70,587.93L388.70,576.30L390.30,576.30L390.30,591.40L391.90,591.40L391.90,573.00L394.40,573.00L394.40,570.50L396.40,570.50L396.40,574.50L397.70,574.50L397.70,587.86L400.60,587.86L400.60,576.30L402.20,576.30L402.20,591.40L403.80,591.40L403.80,573.00L406.30,573.00L406.30,570.50L408.30,570.50L408.30,574.50L409.60,574.50L409.60,587.82L412.50,587.82L412.50,576.30L414.10,576.30L414.10,591.40L415.70,591.40L415.70,573.00L418.20,573.00L418.20,570.50L420.20,570.50L420.20,574.50L421.50,574.50L421.50,587.81L422.00,587.81L422.00,591.40Z" fill="#fff"/>
<g stroke="#262626" stroke-width="1.1" fill="none">
<line x1="128.8" y1="529.3" x2="422.5" y2="529.3"/>
<line x1="128.8" y1="591.4" x2="422.5" y2="591.4"/>
<line x1="128.8" y1="529.3" x2="128.8" y2="546.3"/>
<line x1="128.8" y1="591.4" x2="128.8" y2="571.4"/>
<line x1="422.5" y1="529.3" x2="422.5" y2="549.3"/>
<line x1="422.5" y1="591.4" x2="422.5" y2="571.4"/>
<line x1="185.9" y1="529.3" x2="185.9" y2="532.3"/>
<line x1="185.9" y1="591.4" x2="185.9" y2="588.4"/>
<line x1="245.1" y1="529.3" x2="245.1" y2="532.3"/>
<line x1="245.1" y1="591.4" x2="245.1" y2="588.4"/>
<line x1="304.3" y1="529.3" x2="304.3" y2="532.3"/>
<line x1="304.3" y1="591.4" x2="304.3" y2="588.4"/>
<line x1="363.5" y1="529.3" x2="363.5" y2="532.3"/>
<line x1="363.5" y1="591.4" x2="363.5" y2="588.4"/>
</g>
<text class="it" x="125.6" y="542.9" text-anchor="end">30</text>
<text class="it" x="125.6" y="564.1999999999999" text-anchor="end">25</text>
<text class="it" x="125.6" y="585.6999999999999" text-anchor="end">20</text>
<text class="it" x="185.3" y="607.8" text-anchor="middle" letter-spacing="-0.6">2.1</text>
<text class="it" x="244.5" y="607.8" text-anchor="middle" letter-spacing="-0.6">2.2</text>
<text class="it" x="303.7" y="607.8" text-anchor="middle" letter-spacing="-0.6">2.3</text>
<text class="it" x="362.9" y="607.8" text-anchor="middle" letter-spacing="-0.6">2.4</text>
<text class="tk" x="62.6" y="685.30" text-anchor="end">15</text>
<text class="tk" x="62.6" y="615.65" text-anchor="end">20</text>
<text class="tk" x="62.6" y="546.00" text-anchor="end">25</text>
<text class="tk" x="62.6" y="476.35" text-anchor="end">30</text>
<text class="tk" x="62.6" y="406.70" text-anchor="end">35</text>
<text class="tk" x="100.70" y="700.80" text-anchor="middle">1</text>
<text class="tk" x="166.33" y="700.80" text-anchor="middle">2</text>
<text class="tk" x="231.96" y="700.80" text-anchor="middle">3</text>
<text class="tk" x="297.59" y="700.80" text-anchor="middle">4</text>
<text class="tk" x="363.22" y="700.80" text-anchor="middle">5</text>
<text class="tk" x="428.85" y="700.80" text-anchor="middle">6</text>
<text class="tk" x="494.48" y="700.80" text-anchor="middle">7</text>
<text class="tt" x="297.6" y="391" text-anchor="middle" letter-spacing="-0.05">Sampled Current</text>
<text class="lb" x="298.3" y="723.9" text-anchor="middle" letter-spacing="0.3">Time (s)</text>
<text class="lb" transform="translate(35,538.2) rotate(-90)" text-anchor="middle" letter-spacing="0.15">Current (A)</text>
</svg></body></html>
